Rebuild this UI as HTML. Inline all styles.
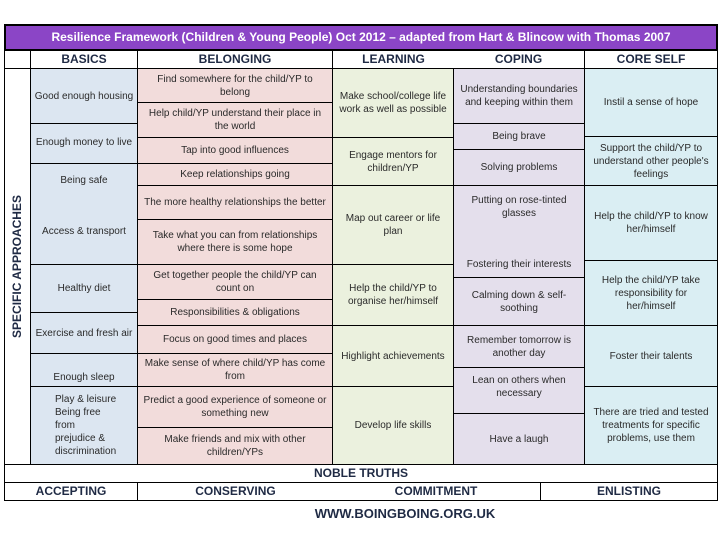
<!DOCTYPE html>
<html><head><meta charset="utf-8">
<style>
body{margin:0;width:720px;height:540px;background:#fff;position:relative;overflow:hidden;font-family:"Liberation Sans",sans-serif;}
.c{position:absolute;box-sizing:border-box;border:1px solid #000;display:flex;align-items:center;justify-content:center;text-align:center;font-size:10px;line-height:13px;color:#2a2a2a;padding:0 3px;}
.b{left:30px;width:108px;background:#dce6f1;}
.g{left:137px;width:196px;background:#f2dcdb;}
.l{left:332px;width:122px;background:#ebf1de;}
.p{left:453px;width:132px;background:#e4dfec;}
.s{left:584px;width:134px;background:#daeef3;}
.h{font-weight:bold;font-size:12px;color:#1f2a44;background:#fff;}
</style></head><body>
<div>
<div class="c" style="left:4px;top:24px;width:714px;height:27px;background:#8b45c6;color:#fff;font-weight:bold;font-size:12px;border-width:2px;">Resilience Framework (Children &amp; Young People) Oct 2012 – adapted from Hart &amp; Blincow with Thomas 2007</div>
<div class="c h" style="left:4px;top:50px;width:27px;height:19px;"></div>
<div class="c h b" style="top:50px;height:19px;background:#fff;">BASICS</div>
<div class="c h g" style="top:50px;height:19px;background:#fff;">BELONGING</div>
<div class="c h" style="left:332px;width:122px;top:50px;height:19px;border-right:none;">LEARNING</div>
<div class="c h" style="left:453px;width:132px;top:50px;height:19px;border-left:none;">COPING</div>
<div class="c h s" style="top:50px;height:19px;background:#fff;">CORE SELF</div>

<div class="c" style="left:4px;top:68px;width:27px;height:397px;background:#fff;"><div style="transform:rotate(-90deg);white-space:nowrap;font-weight:bold;font-size:12px;color:#1f2a44;">SPECIFIC APPROACHES</div></div>

<div class="c b" style="top:68px;height:56px;">Good enough housing</div>
<div class="c b" style="top:123px;height:41px;align-items:flex-start;padding-top:12px;">Enough money to live</div>
<div class="c b" style="top:163px;height:102px;"><span style="position:absolute;top:10px;left:0;right:0;">Being safe</span><span style="position:absolute;top:61px;left:0;right:0;">Access &amp; transport</span></div>
<div class="c b" style="top:264px;height:49px;">Healthy diet</div>
<div class="c b" style="top:312px;height:42px;align-items:flex-start;padding-top:14px;">Exercise and fresh air</div>
<div class="c b" style="top:353px;height:34px;align-items:flex-end;padding-bottom:2px;">Enough sleep</div>
<div class="c b" style="top:386px;height:79px;text-align:left;justify-content:flex-start;padding-left:24px;">Play &amp; leisure<br>Being free<br>from<br>prejudice &amp;<br>discrimination</div>

<div class="c g" style="top:68px;height:35px;">Find somewhere for the child/YP to belong</div>
<div class="c g" style="top:102px;height:36px;">Help child/YP understand their place in the world</div>
<div class="c g" style="top:137px;height:27px;">Tap into good influences</div>
<div class="c g" style="top:163px;height:23px;">Keep relationships going</div>
<div class="c g" style="top:185px;height:35px;">The more healthy relationships the better</div>
<div class="c g" style="top:219px;height:46px;">Take what you can from relationships where there is some hope</div>
<div class="c g" style="top:264px;height:36px;">Get together people the child/YP can count on</div>
<div class="c g" style="top:299px;height:27px;">Responsibilities &amp; obligations</div>
<div class="c g" style="top:325px;height:29px;">Focus on good times and places</div>
<div class="c g" style="top:353px;height:34px;">Make sense of where child/YP has come from</div>
<div class="c g" style="top:386px;height:42px;">Predict a good experience of someone or something new</div>
<div class="c g" style="top:427px;height:38px;">Make friends and mix with other children/YPs</div>

<div class="c l" style="top:68px;height:70px;">Make school/college life work as well as possible</div>
<div class="c l" style="top:137px;height:49px;">Engage mentors for children/YP</div>
<div class="c l" style="top:185px;height:80px;">Map out career or life plan</div>
<div class="c l" style="top:264px;height:62px;">Help the child/YP to organise her/himself</div>
<div class="c l" style="top:325px;height:62px;">Highlight achievements</div>
<div class="c l" style="top:386px;height:79px;">Develop life skills</div>

<div class="c p" style="top:68px;height:56px;">Understanding boundaries and keeping within them</div>
<div class="c p" style="top:123px;height:27px;">Being brave</div>
<div class="c p" style="top:149px;height:37px;">Solving problems</div>
<div class="c p" style="top:185px;height:93px;flex-direction:column;justify-content:space-between;padding:8px 3px 6px;"><span>Putting on rose-tinted glasses</span><span>Fostering their interests</span></div>
<div class="c p" style="top:277px;height:49px;">Calming down &amp; self-soothing</div>
<div class="c p" style="top:325px;height:43px;">Remember tomorrow is another day</div>
<div class="c p" style="top:367px;height:47px;align-items:flex-start;padding-top:6px;">Lean on others when necessary</div>
<div class="c p" style="top:413px;height:52px;">Have a laugh</div>

<div class="c s" style="top:68px;height:69px;">Instil a sense of hope</div>
<div class="c s" style="top:136px;height:50px;">Support the child/YP to understand other people's feelings</div>
<div class="c s" style="top:185px;height:76px;">Help the child/YP to know her/himself</div>
<div class="c s" style="top:260px;height:66px;padding:0 14px;">Help the child/YP take responsibility for her/himself</div>
<div class="c s" style="top:325px;height:62px;">Foster their talents</div>
<div class="c s" style="top:386px;height:79px;">There are tried and tested treatments for specific problems, use them</div>

<div class="c h" style="left:4px;top:464px;width:714px;height:19px;">NOBLE TRUTHS</div>
<div class="c h" style="left:4px;top:482px;width:134px;height:19px;">ACCEPTING</div>
<div class="c h" style="left:137px;top:482px;width:196px;height:19px;border-right:none;">CONSERVING</div>
<div class="c h" style="left:332px;top:482px;width:209px;height:19px;border-left:none;">COMMITMENT</div>
<div class="c h" style="left:540px;top:482px;width:178px;height:19px;">ENLISTING</div>
</div>
<div style="position:absolute;left:250px;width:310px;top:506px;text-align:center;font-weight:bold;font-size:13px;color:#1f2a44;">WWW.BOINGBOING.ORG.UK</div>
</body></html>
